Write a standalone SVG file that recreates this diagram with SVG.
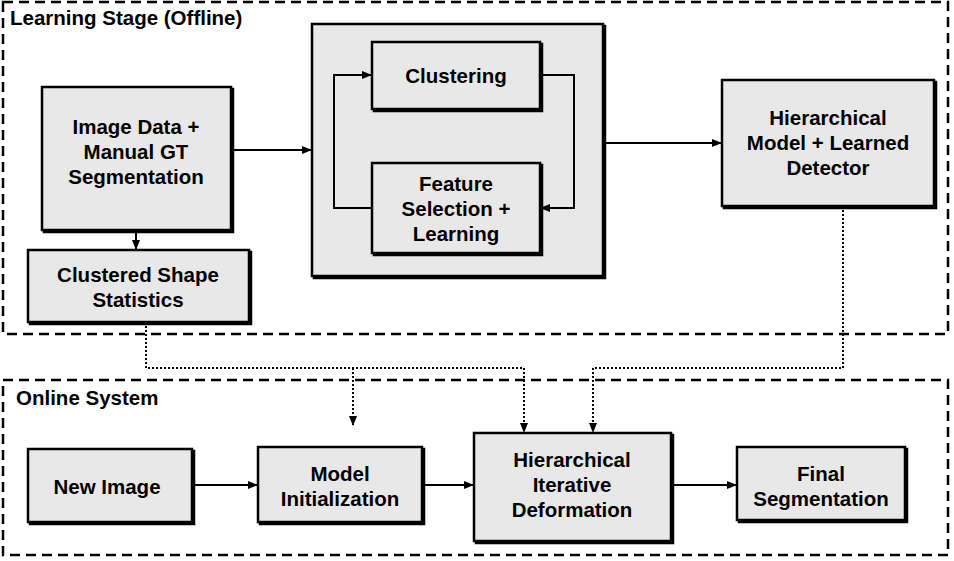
<svg xmlns="http://www.w3.org/2000/svg" width="954" height="561" viewBox="0 0 954 561">
<defs>
<marker id="ah" markerWidth="10" markerHeight="8" refX="9" refY="4" orient="auto" markerUnits="userSpaceOnUse"><path d="M0,0 L10,4 L0,8 Z" fill="#000"/></marker>
<filter id="sh" x="-5%" y="-5%" width="115%" height="115%"><feOffset dx="2" dy="2" in="SourceAlpha" result="o"/><feMerge><feMergeNode in="o"/><feMergeNode in="SourceGraphic"/></feMerge></filter>
</defs>
<style>
.box{fill:#e8e8e8;stroke:#000;stroke-width:2.5;filter:url(#sh)}
.frame{fill:none;stroke:#000;stroke-width:2.5;stroke-dasharray:10,6}
.t{font-family:"Liberation Sans",Arial,sans-serif;font-weight:bold;font-size:20.5px;text-anchor:middle;fill:#000}
.h{font-family:"Liberation Sans",Arial,sans-serif;font-weight:bold;font-size:20.5px;fill:#000}
.c{fill:none;stroke:#000;stroke-width:2}
.d{fill:none;stroke:#000;stroke-width:2;stroke-dasharray:2,2}
</style>
<rect fill="#fff" width="954" height="561"/>
<rect class="frame" x="3" y="2" width="945" height="332"/>
<rect class="frame" x="3" y="380" width="945" height="175"/>
<text class="h" x="10" y="25">Learning Stage (Offline)</text>
<text class="h" x="16" y="405">Online System</text>
<g id="image-data"><rect class="box" x="42" y="87" width="189" height="143"/><text class="t" x="136" y="134">Image Data +</text><text class="t" x="136" y="159">Manual GT</text><text class="t" x="136" y="184">Segmentation</text></g>
<g id="clustered"><rect class="box" x="28" y="250" width="221" height="72"/><text class="t" x="138" y="282">Clustered Shape</text><text class="t" x="138" y="307">Statistics</text></g>
<g id="learning-block"><rect class="box" x="312" y="24" width="291" height="252"/></g>
<g id="clustering"><rect class="box" x="372" y="42" width="168" height="67"/><text class="t" x="456" y="83">Clustering</text></g>
<g id="feature"><rect class="box" x="372" y="163" width="168" height="90"/><text class="t" x="456" y="191">Feature</text><text class="t" x="456" y="216">Selection +</text><text class="t" x="456" y="241">Learning</text></g>
<g id="hier-model"><rect class="box" x="722" y="80" width="212" height="126"/><text class="t" x="828" y="125">Hierarchical</text><text class="t" x="828" y="150">Model + Learned</text><text class="t" x="828" y="175">Detector</text></g>
<g id="new-image"><rect class="box" x="28" y="449" width="164" height="73"/><text class="t" x="107" y="494">New Image</text></g>
<g id="model-init"><rect class="box" x="258" y="447" width="164" height="75"/><text class="t" x="340" y="481">Model</text><text class="t" x="340" y="506">Initialization</text></g>
<g id="hid"><rect class="box" x="474" y="433" width="197" height="108"/><text class="t" x="572" y="467">Hierarchical</text><text class="t" x="572" y="492">Iterative</text><text class="t" x="572" y="517">Deformation</text></g>
<g id="final"><rect class="box" x="737" y="447" width="168" height="73"/><text class="t" x="821" y="481">Final</text><text class="t" x="821" y="506">Segmentation</text></g>
<g id="connectors">
<path class="c" d="M231,150 H311" marker-end="url(#ah)"/>
<path class="c" d="M136,230 V249" marker-end="url(#ah)"/>
<path class="c" d="M603,143 H721" marker-end="url(#ah)"/>
<path class="c" d="M372,208 H334 V75 H371" marker-end="url(#ah)"/>
<path class="c" d="M540,75 H574 V208 H541" marker-end="url(#ah)"/>
<path class="c" d="M192,485 H257" marker-end="url(#ah)"/>
<path class="c" d="M422,485 H473" marker-end="url(#ah)"/>
<path class="c" d="M671,485 H736" marker-end="url(#ah)"/>
<path class="d" d="M146,322 V368 H524 V432" marker-end="url(#ah)"/>
<path class="d" d="M353,368 V425" marker-end="url(#ah)"/>
<path class="d" d="M843,206 V368 H593 V432" marker-end="url(#ah)"/>
</g>
</svg>
